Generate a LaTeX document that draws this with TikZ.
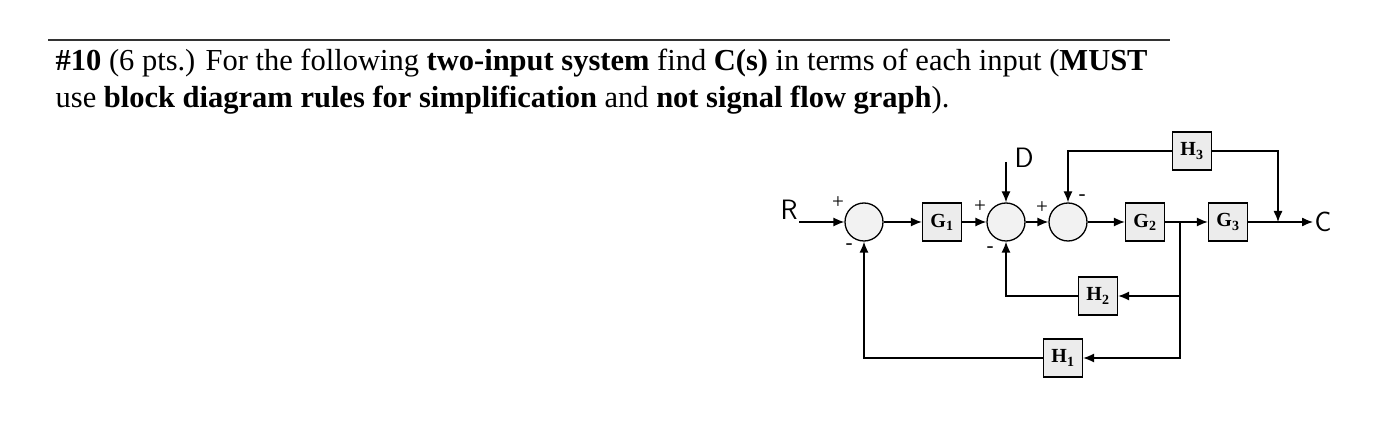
\documentclass[tikz,border=0pt]{standalone}
\usepackage{fontspec}
\setmainfont{Liberation Serif}
\usetikzlibrary{positioning}
\usetikzlibrary{arrows.meta}

\begin{document}
\begin{tikzpicture}[x=1pt, y=-1pt, >={Latex[length=11pt,width=9pt]}, line width=1.3pt,
    blk/.style={draw, fill=gray!15, minimum width=39pt, minimum height=38pt, inner sep=0pt,
                font=\fontsize{20}{22}\selectfont\bfseries},
    sumj/.style={draw, circle, fill=gray!10, minimum size=38pt, inner sep=0pt},
    sgn/.style={font=\fontsize{21}{23}\selectfont, inner sep=0pt},
    hand/.style={font=\fontsize{28}{30}\selectfont\sffamily, inner sep=1pt},
    txt/.style={anchor=base west, inner sep=0pt, font=\fontsize{30.5}{36}\selectfont}]
    \useasboundingbox (0,0) rectangle (1374,438);

    % Heading
    \draw [line width=2.5pt, black!80] (48,40) -- (1170,40);
    \node [txt] (line1) at (55,71) {\textbf{\#10} (6 pts.) For the following \textbf{two-input system} find \textbf{C(s)} in terms of each input (\textbf{MUST}};
    \node [txt] (line2) at (55,108) {use \textbf{block diagram rules for simplification} and \textbf{not signal flow graph}).};

    % bodies
    \node [sumj] (s1) at (864,222) {};
    \node [blk] (g1) at (942,222) {G\textsubscript{1}};
    \node [sumj] (s2) at (1006,222) {};
    \node [sumj] (s3) at (1068,222) {};
    \node [blk] (g2) at (1145,222) {G\textsubscript{2}};
    \node [blk] (g3) at (1228,222) {G\textsubscript{3}};
    \node [blk] (h3) at (1192,151) {H\textsubscript{3}};
    \node [blk] (h2) at (1098,296) {H\textsubscript{2}};
    \node [blk] (h1) at (1063,358) {H\textsubscript{1}};
    \coordinate (b1) at (1180,222);
    \coordinate (b2) at (1278,222);

    % Labels
    \node [hand] (r) at (789,210) {R};
    \node [hand] (d) at (1024,158) {D};
    \coordinate (dtop) at (1006,162);
    \node [hand, anchor=west] (c) at (1313,222) {C};
    \node [sgn] (p1) at (838,203) {+};
    \node [sgn] (m1) at (849,247) {-};
    \node [sgn] (p2) at (980,207) {+};
    \node [sgn] (m2) at (990,250) {-};
    \node [sgn] (p3) at (1042,208) {+};
    \node [sgn] (m3) at (1082,198) {-};

    % forward path
    \draw [->] (r.east |- s1) -- (s1);
    \draw [->] (s1) -- (g1);
    \draw [->] (g1) -- (s2);
    \draw [->] (dtop) -- (s2);
    \draw [->] (s2) -- (s3);
    \draw [->] (s3) -- (g2);
    \draw [->] (g2) -- (g3);
    \draw [->] (g3) -- (c);

    % feedback loops
    \draw [->] (b1) |- (h2);
    \draw [->] (h2) -| (s2);
    \draw [->] (b1) |- (h1);
    \draw [->] (h1) -| (s1);
    \draw [->] (h3) -| (s3);
    \draw [->] (h3) -| (b2);

\end{tikzpicture}
\end{document}
